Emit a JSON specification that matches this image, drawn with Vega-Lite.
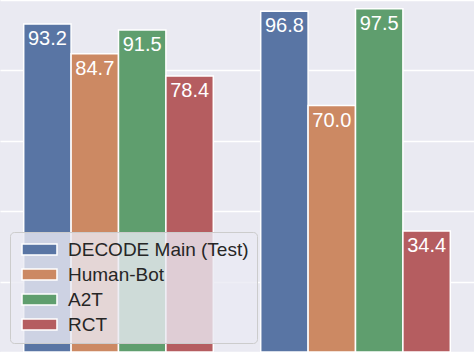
{
  "$schema": "https://vega.github.io/schema/vega-lite/v6.json",
  "width": 474,
  "height": 352,
  "padding": 0,
  "autosize": {"type": "none"},
  "background": "white",
  "config": {
    "view": {"fill": "#EAEAF2", "stroke": null},
    "font": "Liberation Sans"
  },
  "data": {
    "values": [
      {"group": "G1", "model": "DECODE Main (Test)", "value": 93.2},
      {"group": "G1", "model": "Human-Bot", "value": 84.7},
      {"group": "G1", "model": "A2T", "value": 91.5},
      {"group": "G1", "model": "RCT", "value": 78.4},
      {"group": "G2", "model": "DECODE Main (Test)", "value": 96.8},
      {"group": "G2", "model": "Human-Bot", "value": 70.0},
      {"group": "G2", "model": "A2T", "value": 97.5},
      {"group": "G2", "model": "RCT", "value": 34.4}
    ]
  },
  "encoding": {
    "x": {
      "field": "group",
      "type": "nominal",
      "axis": null,
      "scale": {"paddingInner": 0.2, "paddingOuter": 0.1}
    },
    "xOffset": {
      "field": "model",
      "type": "nominal",
      "sort": ["DECODE Main (Test)", "Human-Bot", "A2T", "RCT"],
      "scale": {"paddingInner": 0, "paddingOuter": 0}
    },
    "y": {
      "field": "value",
      "type": "quantitative",
      "scale": {"domain": [0, 100], "nice": false},
      "axis": {
        "domain": false,
        "ticks": false,
        "labels": false,
        "title": null,
        "grid": true,
        "gridColor": "white",
        "gridWidth": 1.5,
        "values": [0, 20, 40, 60, 80, 100]
      }
    }
  },
  "layer": [
    {
      "mark": {"type": "bar", "stroke": "white", "strokeWidth": 1.5},
      "encoding": {
        "color": {
          "field": "model",
          "type": "nominal",
          "scale": {
            "domain": ["DECODE Main (Test)", "Human-Bot", "A2T", "RCT"],
            "range": ["#5975a4", "#cc8963", "#5f9e6e", "#b55d60"]
          },
          "legend": {
            "orient": "none",
            "legendX": 10,
            "legendY": 232,
            "title": null,
            "fillColor": "rgba(234,234,242,0.8)",
            "strokeColor": "#cccccc",
            "cornerRadius": 4,
            "padding": 8,
            "labelFontSize": 19,
            "labelColor": "#262626",
            "labelFont": "Liberation Sans",
            "labelLimit": 300,
            "labelOffset": 31,
            "symbolType": "M-1,-1H5.36V1H-1Z",
            "symbolSize": 121,
            "symbolStrokeColor": "white",
            "symbolStrokeWidth": 1.5,
            "symbolOpacity": 1,
            "rowPadding": 5
          }
        }
      }
    },
    {
      "mark": {
        "type": "text",
        "dy": 21,
        "baseline": "alphabetic",
        "fill": "white",
        "fontSize": 20,
        "font": "Liberation Sans"
      },
      "encoding": {
        "text": {"field": "value", "type": "quantitative", "format": ".1f"}
      }
    }
  ]
}
